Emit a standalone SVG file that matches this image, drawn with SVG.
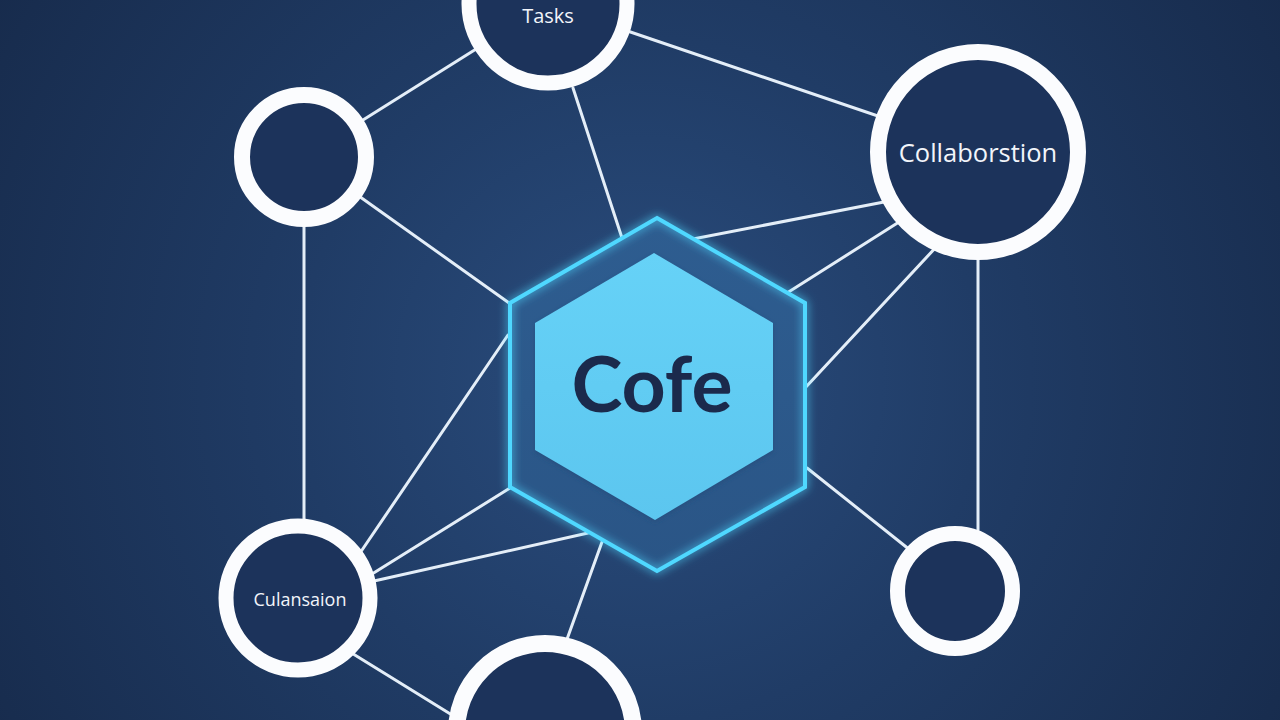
<svg xmlns="http://www.w3.org/2000/svg" width="1280" height="720" viewBox="0 0 1280 720">
<defs>
<radialGradient id="bg" cx="640" cy="380" r="760" gradientUnits="userSpaceOnUse">
<stop offset="0" stop-color="#2a4d7e"/>
<stop offset="0.45" stop-color="#203c66"/>
<stop offset="1" stop-color="#172b4c"/>
</radialGradient>
<linearGradient id="band" x1="0" y1="0" x2="0" y2="1">
<stop offset="0" stop-color="#2e5d90"/>
<stop offset="1" stop-color="#2a5586"/>
</linearGradient>
<linearGradient id="core" x1="0" y1="0" x2="0" y2="1">
<stop offset="0" stop-color="#66d2f7"/>
<stop offset="1" stop-color="#5cc6ef"/>
</linearGradient>
<filter id="glow" x="-20%" y="-20%" width="140%" height="140%">
<feGaussianBlur stdDeviation="5" result="b"/>
<feMerge><feMergeNode in="b"/><feMergeNode in="SourceGraphic"/></feMerge>
</filter>
<filter id="soft" x="-10%" y="-10%" width="120%" height="120%">
<feGaussianBlur stdDeviation="2"/>
</filter>
</defs>
<style>
.link{stroke:#e4eef8;stroke-width:3;fill:none;stroke-linecap:round}
.ring{fill:#1c335b;stroke:#fbfcfe}
.lbl{font-family:"Open Sans","Liberation Sans",sans-serif;fill:#f2f5fa;text-anchor:middle}
</style>
<rect width="1280" height="720" fill="url(#bg)"/>
<g id="connectors">
<line class="link" x1="548" y1="4" x2="304" y2="157"/>
<line class="link" x1="548" y1="4" x2="978" y2="150"/>
<line class="link" x1="573" y1="88" x2="622" y2="238"/>
<line class="link" x1="304" y1="157" x2="512" y2="305"/>
<line class="link" x1="304" y1="220" x2="304" y2="525"/>
<line class="link" x1="693" y1="239" x2="884" y2="202"/>
<line class="link" x1="787" y1="293" x2="899" y2="222"/>
<line class="link" x1="805" y1="388" x2="938" y2="245"/>
<line class="link" x1="978" y1="250" x2="978" y2="530"/>
<line class="link" x1="807" y1="468" x2="910" y2="550"/>
<line class="link" x1="508" y1="335" x2="360" y2="553"/>
<line class="link" x1="510" y1="488" x2="372" y2="574"/>
<line class="link" x1="588" y1="533" x2="374" y2="581"/>
<line class="link" x1="602" y1="542" x2="566" y2="642"/>
<line class="link" x1="350" y1="652" x2="452" y2="715"/>
</g>
<g id="node-tasks">
<circle class="ring" cx="548" cy="4" r="79" stroke-width="15"/>
<text class="lbl" x="548" y="23" font-size="20">Tasks</text>
</g>
<g id="node-left-top">
<circle class="ring" cx="304" cy="157" r="62" stroke-width="16"/>
</g>
<g id="node-collaboration">
<circle class="ring" cx="978" cy="152" r="100" stroke-width="16"/>
<text class="lbl" x="978" y="162" font-size="25.5">Collaborstion</text>
</g>
<g id="node-culansaion">
<circle class="ring" cx="298" cy="598" r="72" stroke-width="15"/>
<text class="lbl" x="300" y="606" font-size="18">Culansaion</text>
</g>
<g id="node-bottom-right">
<circle class="ring" cx="955" cy="591" r="57.5" stroke-width="15"/>
</g>
<g id="node-bottom">
<circle class="ring" cx="545" cy="732" r="88.5" stroke-width="17"/>
</g>
<g id="node-core">
<polygon points="657,218 805,303 805,487 657,571 510,487 510,303" fill="url(#band)"/>
<polygon points="657,218 805,303 805,487 657,571 510,487 510,303" fill="none" stroke="#4fd8ff" stroke-width="4" filter="url(#glow)"/>
<polygon points="654,253 773,323 773,450 655,520 535,450 535,323" fill="#28507f" filter="url(#soft)" transform="translate(0,2)"/>
<polygon points="654,253 773,323 773,450 655,520 535,450 535,323" fill="url(#core)"/>
<text x="652" y="412" font-family="Lato,'Liberation Sans',sans-serif" font-weight="700" font-size="77" fill="#1b2a4c" text-anchor="middle">Cofe</text>
</g>
</svg>
